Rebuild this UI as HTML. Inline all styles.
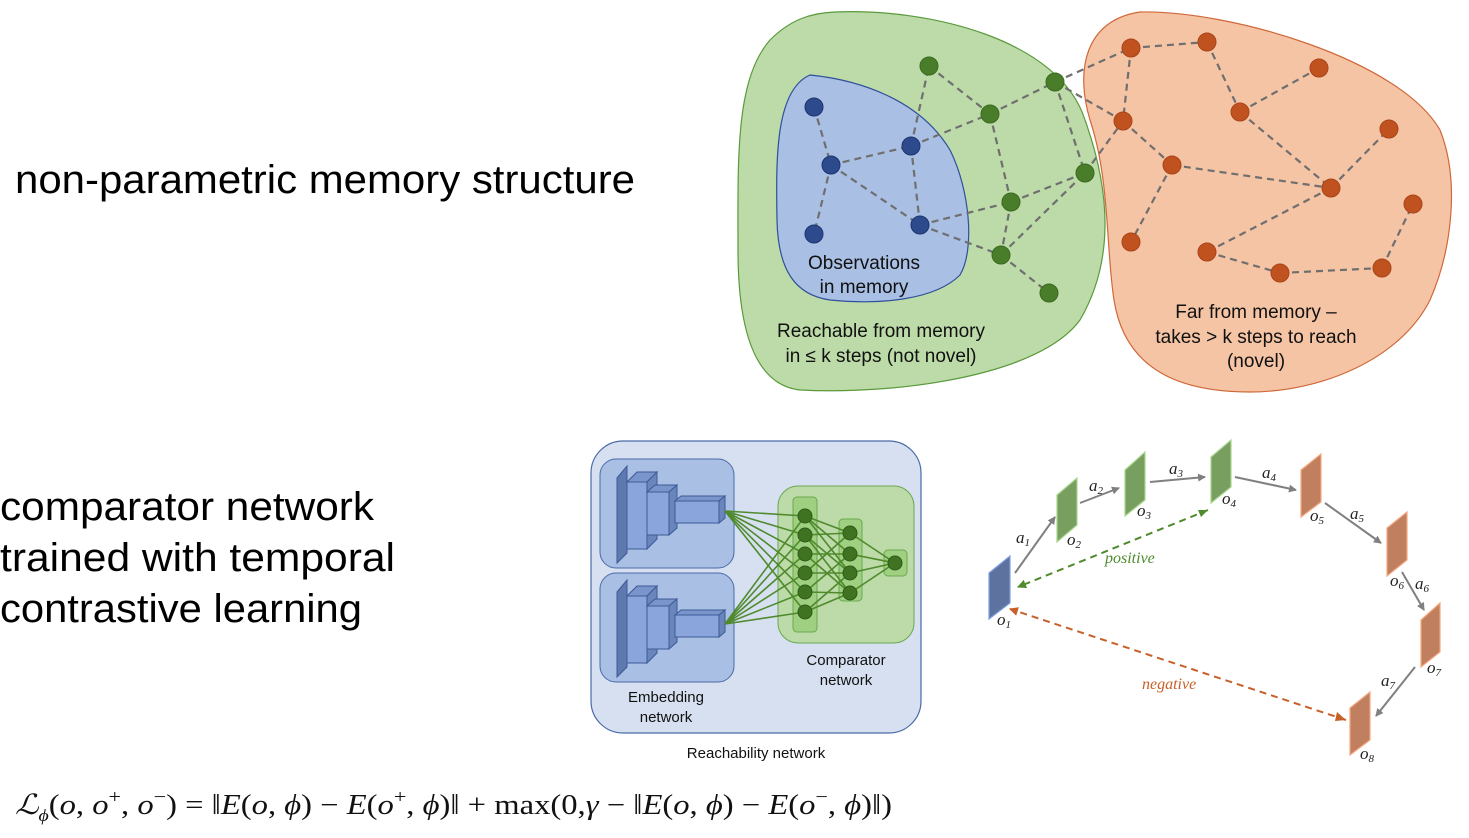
<!DOCTYPE html>
<html><head><meta charset="utf-8"><style>
html,body{margin:0;padding:0;background:#fff;}
svg{display:block;}
text{font-family:"Liberation Sans",sans-serif;}
.ser text, text.ser{font-family:"Liberation Serif",serif;font-style:italic;}
</style></head><body>
<svg width="1469" height="838" viewBox="0 0 1469 838" xmlns="http://www.w3.org/2000/svg">
<defs>
<marker id="ag" markerWidth="8" markerHeight="8" refX="7" refY="4" orient="auto" markerUnits="userSpaceOnUse"><path d="M0,0 L8,4 L0,8 z" fill="#808080"/></marker>
<marker id="agr" markerWidth="9" markerHeight="9" refX="8" refY="4.5" orient="auto" markerUnits="userSpaceOnUse"><path d="M0,0 L9,4.5 L0,9 z" fill="#4f8a2c"/></marker>
<marker id="aor" markerWidth="9" markerHeight="9" refX="8" refY="4.5" orient="auto" markerUnits="userSpaceOnUse"><path d="M0,0 L9,4.5 L0,9 z" fill="#c8602a"/></marker>
</defs>

<text x="15" y="193" font-size="40" textLength="620" lengthAdjust="spacingAndGlyphs">non-parametric memory structure</text>
<text x="0" y="520" font-size="40" textLength="374" lengthAdjust="spacingAndGlyphs">comparator network</text>
<text x="0" y="571" font-size="40" textLength="395" lengthAdjust="spacingAndGlyphs">trained with temporal</text>
<text x="0" y="622" font-size="40" textLength="362" lengthAdjust="spacingAndGlyphs">contrastive learning</text>

<path d="M835,12 C930,8 1060,40 1085,120 C1110,190 1115,260 1080,320 C1040,375 900,395 800,390 C755,385 738,330 738,250 C738,160 735,80 770,40 C790,20 810,13 835,12 Z" fill="#bddba8" stroke="#5a9a3c" stroke-width="1.2"/>
<path d="M1140,12 C1230,10 1400,60 1440,130 C1460,180 1452,250 1430,300 C1400,360 1320,392 1250,392 C1180,392 1125,370 1114,300 C1106,250 1110,180 1090,120 C1075,70 1085,20 1140,12 Z" fill="#f5c4a4" stroke="#d0683a" stroke-width="1.2"/>
<path d="M810,75 C860,80 920,100 950,150 C970,190 975,250 960,275 C935,300 880,305 830,300 C795,295 778,270 777,220 C776,160 775,90 810,75 Z" fill="#a9bfe3" stroke="#2f4f9a" stroke-width="1.2"/>

<g stroke="#6f6f6f" stroke-width="2.2" stroke-dasharray="7,5" fill="none">
<line x1="814" y1="107" x2="831" y2="165"/><line x1="831" y1="165" x2="911" y2="146"/>
<line x1="831" y1="165" x2="814" y2="234"/><line x1="831" y1="165" x2="920" y2="225"/>
<line x1="911" y1="146" x2="920" y2="225"/><line x1="911" y1="146" x2="929" y2="66"/>
<line x1="911" y1="146" x2="990" y2="114"/><line x1="929" y1="66" x2="990" y2="114"/>
<line x1="990" y1="114" x2="1055" y2="82"/><line x1="990" y1="114" x2="1011" y2="202"/>
<line x1="1055" y1="82" x2="1131" y2="48"/><line x1="1055" y1="82" x2="1085" y2="173"/>
<line x1="1055" y1="82" x2="1123" y2="121"/><line x1="920" y1="225" x2="1011" y2="202"/>
<line x1="920" y1="225" x2="1001" y2="255"/><line x1="1011" y1="202" x2="1085" y2="173"/>
<line x1="1011" y1="202" x2="1001" y2="255"/><line x1="1001" y1="255" x2="1085" y2="173"/>
<line x1="1001" y1="255" x2="1049" y2="293"/><line x1="1085" y1="173" x2="1123" y2="121"/>
<line x1="1131" y1="48" x2="1207" y2="42"/><line x1="1131" y1="48" x2="1123" y2="121"/>
<line x1="1123" y1="121" x2="1172" y2="165"/><line x1="1207" y1="42" x2="1240" y2="112"/>
<line x1="1240" y1="112" x2="1319" y2="68"/><line x1="1240" y1="112" x2="1331" y2="188"/>
<line x1="1172" y1="165" x2="1331" y2="188"/><line x1="1172" y1="165" x2="1131" y2="242"/>
<line x1="1331" y1="188" x2="1389" y2="129"/><line x1="1331" y1="188" x2="1207" y2="252"/>
<line x1="1207" y1="252" x2="1280" y2="273"/><line x1="1280" y1="273" x2="1382" y2="268"/>
<line x1="1382" y1="268" x2="1413" y2="204"/>
</g>
<g fill="#2c4a8c" stroke="#1e3570" stroke-width="1">
<ellipse cx="814" cy="107" rx="9" ry="9"/><ellipse cx="831" cy="165" rx="9" ry="9"/><ellipse cx="911" cy="146" rx="9" ry="9"/><ellipse cx="814" cy="234" rx="9" ry="9"/><ellipse cx="920" cy="225" rx="9" ry="9"/>
</g>
<g fill="#4a7d2a" stroke="#3a6a20" stroke-width="1">
<ellipse cx="929" cy="66" rx="9" ry="9"/><ellipse cx="990" cy="114" rx="9" ry="9"/><ellipse cx="1055" cy="82" rx="9" ry="9"/><ellipse cx="1085" cy="173" rx="9" ry="9"/><ellipse cx="1011" cy="202" rx="9" ry="9"/><ellipse cx="1001" cy="255" rx="9" ry="9"/><ellipse cx="1049" cy="293" rx="9" ry="9"/>
</g>
<g fill="#c0521f" stroke="#a8451a" stroke-width="1">
<ellipse cx="1131" cy="48" rx="9" ry="9"/><ellipse cx="1207" cy="42" rx="9" ry="9"/><ellipse cx="1319" cy="68" rx="9" ry="9"/><ellipse cx="1123" cy="121" rx="9" ry="9"/><ellipse cx="1240" cy="112" rx="9" ry="9"/><ellipse cx="1389" cy="129" rx="9" ry="9"/><ellipse cx="1172" cy="165" rx="9" ry="9"/><ellipse cx="1331" cy="188" rx="9" ry="9"/><ellipse cx="1413" cy="204" rx="9" ry="9"/><ellipse cx="1131" cy="242" rx="9" ry="9"/><ellipse cx="1207" cy="252" rx="9" ry="9"/><ellipse cx="1280" cy="273" rx="9" ry="9"/><ellipse cx="1382" cy="268" rx="9" ry="9"/>
</g>
<g font-size="19" fill="#111" text-anchor="middle">
<text x="864" y="269">Observations</text><text x="864" y="293">in memory</text>
<text x="881" y="337">Reachable from memory</text><text x="881" y="362">in ≤ k steps (not novel)</text>
<text x="1256" y="318">Far from memory –</text><text x="1256" y="343">takes &gt; k steps to reach</text><text x="1256" y="367">(novel)</text>
</g>

<rect x="591" y="441" width="330" height="292" rx="32" fill="#d6e0f0" stroke="#4a6aa8" stroke-width="1.2"/>
<rect x="600" y="459" width="134" height="109" rx="16" fill="#a9bfe3" stroke="#4a6aa8" stroke-width="1"/>
<rect x="600" y="573" width="134" height="109" rx="16" fill="#a9bfe3" stroke="#4a6aa8" stroke-width="1"/>
<rect x="778" y="486" width="136" height="157" rx="20" fill="#bddba8" stroke="#6aa84f" stroke-width="1"/>
<g id="cnn" stroke="#3d5a96" stroke-width="1">
<path d="M617,478 L627,466 L627,553 L617,563 Z" fill="#5e79b0"/>
<path d="M627,482 L637,472 L657,472 L647,482 Z" fill="#7a95cc"/>
<rect x="627" y="482" width="20" height="67" fill="#8aa5dc"/>
<path d="M647,482 L657,472 L657,539 L647,549 Z" fill="#6a85bc"/>
<path d="M647,492 L655,485 L677,485 L669,492 Z" fill="#7a95cc"/>
<rect x="647" y="492" width="22" height="43" fill="#8aa5dc"/>
<path d="M669,492 L677,485 L677,528 L669,535 Z" fill="#6a85bc"/>
<path d="M675,501 L681,496 L725,496 L719,501 Z" fill="#7a95cc"/>
<rect x="675" y="501" width="44" height="22" fill="#8aa5dc"/>
<path d="M719,501 L725,496 L725,518 L719,523 Z" fill="#6a85bc"/>
</g>
<use href="#cnn" transform="translate(0,114)"/>
<rect x="793" y="497" width="24" height="135" rx="4" fill="#9fcf80" stroke="#6aa84f"/>
<rect x="839" y="519" width="23" height="82" rx="4" fill="#9fcf80" stroke="#6aa84f"/>
<rect x="884" y="550" width="23" height="26" rx="4" fill="#9fcf80" stroke="#6aa84f"/>
<g stroke="#4f8a2c" stroke-width="1.6">
<line x1="725" y1="511" x2="805" y2="516"/><line x1="725" y1="511" x2="805" y2="535"/><line x1="725" y1="511" x2="805" y2="554"/><line x1="725" y1="511" x2="805" y2="573"/><line x1="725" y1="511" x2="805" y2="592"/><line x1="725" y1="511" x2="805" y2="612"/>
<line x1="725" y1="624" x2="805" y2="516"/><line x1="725" y1="624" x2="805" y2="535"/><line x1="725" y1="624" x2="805" y2="554"/><line x1="725" y1="624" x2="805" y2="573"/><line x1="725" y1="624" x2="805" y2="592"/><line x1="725" y1="624" x2="805" y2="612"/>
<line x1="805" y1="516" x2="850" y2="533"/><line x1="805" y1="516" x2="850" y2="554"/><line x1="805" y1="516" x2="850" y2="573"/><line x1="805" y1="535" x2="850" y2="533"/><line x1="805" y1="535" x2="850" y2="573"/><line x1="805" y1="535" x2="850" y2="593"/><line x1="805" y1="554" x2="850" y2="554"/><line x1="805" y1="554" x2="850" y2="593"/><line x1="805" y1="573" x2="850" y2="533"/><line x1="805" y1="573" x2="850" y2="573"/><line x1="805" y1="592" x2="850" y2="554"/><line x1="805" y1="592" x2="850" y2="593"/><line x1="805" y1="612" x2="850" y2="573"/><line x1="805" y1="612" x2="850" y2="593"/>
<line x1="850" y1="533" x2="895" y2="563"/><line x1="850" y1="554" x2="895" y2="563"/><line x1="850" y1="573" x2="895" y2="563"/><line x1="850" y1="593" x2="895" y2="563"/>
</g>
<g fill="#3f7322" stroke="#2f5a18" stroke-width="1">
<circle cx="805" cy="516" r="7"/><circle cx="805" cy="535" r="7"/><circle cx="805" cy="554" r="7"/><circle cx="805" cy="573" r="7"/><circle cx="805" cy="592" r="7"/><circle cx="805" cy="612" r="7"/>
<circle cx="850" cy="533" r="7"/><circle cx="850" cy="554" r="7"/><circle cx="850" cy="573" r="7"/><circle cx="850" cy="593" r="7"/>
<circle cx="895" cy="563" r="7"/>
</g>
<g font-size="15" fill="#111" text-anchor="middle">
<text x="846" y="665">Comparator</text><text x="846" y="685">network</text>
<text x="666" y="702">Embedding</text><text x="666" y="722">network</text>
<text x="756" y="758">Reachability network</text>
</g>

<g stroke-width="1.2">
<path d="M989,573 L1010,556 L1010,603 L989,619 Z" fill="#5e72a0" stroke="#7f9fe0"/>
<path d="M1057,495 L1077,478 L1077,525 L1057,542 Z" fill="#789e60" stroke="#a8d890"/>
<path d="M1125,470 L1145,452 L1145,500 L1125,516 Z" fill="#789e60" stroke="#a8d890"/>
<path d="M1211,457 L1231,440 L1231,487 L1211,503 Z" fill="#789e60" stroke="#a8d890"/>
<path d="M1301,470 L1321,454 L1321,502 L1301,517 Z" fill="#c08060" stroke="#f5a880"/>
<path d="M1387,528 L1407,512 L1407,560 L1387,576 Z" fill="#c08060" stroke="#f5a880"/>
<path d="M1421,620 L1440,603 L1440,652 L1421,667 Z" fill="#c08060" stroke="#f5a880"/>
<path d="M1350,708 L1370,692 L1370,740 L1350,755 Z" fill="#c08060" stroke="#f5a880"/>
</g>
<g stroke="#808080" stroke-width="2" marker-end="url(#ag)">
<line x1="1015" y1="573" x2="1055" y2="517"/><line x1="1080" y1="503" x2="1119" y2="488"/>
<line x1="1150" y1="482" x2="1205" y2="477"/><line x1="1235" y1="477" x2="1296" y2="490"/>
<line x1="1325" y1="503" x2="1381" y2="543"/><line x1="1402" y1="572" x2="1424" y2="610"/>
<line x1="1415" y1="667" x2="1376" y2="716"/>
</g>
<line x1="1208" y1="510" x2="1018" y2="587" stroke="#4f8a2c" stroke-width="2" stroke-dasharray="7,5" marker-end="url(#agr)"/>
<path d="M1208,510 L1198,510 L1201,517 Z" fill="#4f8a2c"/>
<line x1="1346" y1="720" x2="1010" y2="609" stroke="#c8602a" stroke-width="2" stroke-dasharray="7,5" marker-end="url(#aor)"/>
<path d="M1346,720 L1337,712 L1335,721 Z" fill="#c8602a"/>
<g class="ser" font-size="17" fill="#222">
<text x="1016" y="543">a<tspan font-size="11" dy="3">1</tspan></text>
<text x="1089" y="491">a<tspan font-size="11" dy="3">2</tspan></text>
<text x="1169" y="474">a<tspan font-size="11" dy="3">3</tspan></text>
<text x="1262" y="478">a<tspan font-size="11" dy="3">4</tspan></text>
<text x="1350" y="519">a<tspan font-size="11" dy="3">5</tspan></text>
<text x="1415" y="589">a<tspan font-size="11" dy="3">6</tspan></text>
<text x="1381" y="686">a<tspan font-size="11" dy="3">7</tspan></text>
<text x="997" y="625">o<tspan font-size="11" dy="3">1</tspan></text>
<text x="1067" y="545">o<tspan font-size="11" dy="3">2</tspan></text>
<text x="1137" y="516">o<tspan font-size="11" dy="3">3</tspan></text>
<text x="1222" y="504">o<tspan font-size="11" dy="3">4</tspan></text>
<text x="1310" y="521">o<tspan font-size="11" dy="3">5</tspan></text>
<text x="1390" y="586">o<tspan font-size="11" dy="3">6</tspan></text>
<text x="1427" y="673">o<tspan font-size="11" dy="3">7</tspan></text>
<text x="1360" y="759">o<tspan font-size="11" dy="3">8</tspan></text>
</g>
<text class="ser" x="1105" y="563" font-size="16" fill="#4f8a2c">positive</text>
<text class="ser" x="1142" y="689" font-size="16" fill="#c8602a">negative</text>

<text x="15" y="814" font-size="28" fill="#111" style="font-family:'Liberation Serif',serif" textLength="877" lengthAdjust="spacingAndGlyphs"><tspan font-style="italic">ℒ</tspan><tspan font-size="17" dy="7" font-style="italic">ϕ</tspan><tspan dy="-7">(</tspan><tspan font-style="italic">o</tspan>, <tspan font-style="italic">o</tspan><tspan font-size="19" dy="-11">+</tspan><tspan dy="11">, </tspan><tspan font-style="italic">o</tspan><tspan font-size="19" dy="-11">−</tspan><tspan dy="11">) = ‖</tspan><tspan font-style="italic">E</tspan>(<tspan font-style="italic">o</tspan>, <tspan font-style="italic">ϕ</tspan>) − <tspan font-style="italic">E</tspan>(<tspan font-style="italic">o</tspan><tspan font-size="19" dy="-11">+</tspan><tspan dy="11">, </tspan><tspan font-style="italic">ϕ</tspan>)‖ + max(0,<tspan font-style="italic">γ</tspan> − ‖<tspan font-style="italic">E</tspan>(<tspan font-style="italic">o</tspan>, <tspan font-style="italic">ϕ</tspan>) − <tspan font-style="italic">E</tspan>(<tspan font-style="italic">o</tspan><tspan font-size="19" dy="-11">−</tspan><tspan dy="11">, </tspan><tspan font-style="italic">ϕ</tspan>)‖)</text>
</svg>
</body></html>
